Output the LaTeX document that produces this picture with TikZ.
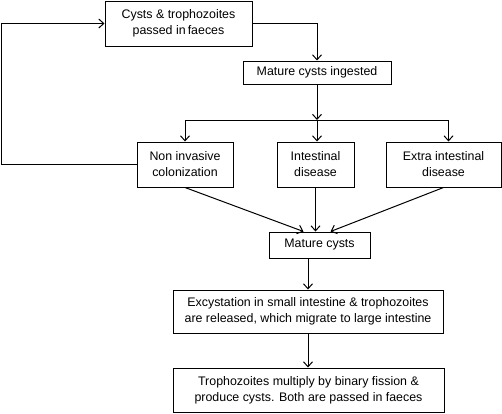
\documentclass[tikz,border=0pt]{standalone}
\usepackage{fontspec}
\setmainfont{Liberation Sans}
\usetikzlibrary{arrows.meta}

\begin{document}
\begin{tikzpicture}[
  x=1pt, y=-1pt,
  font=\fontsize{12.4}{16}\selectfont,
  >={Straight Barb[length=5pt,width=9pt]},
  block/.style={rectangle, draw=black, line width=1pt, fill=white, inner sep=0pt, align=center},
  arrow/.style={->, line width=1pt}
]
\useasboundingbox (0,0) rectangle (502,413);
% top of the cycle
\node[block, minimum width=147pt, minimum height=45pt] (passed) at (178.5,23.5) {Cysts \& trophozoites\\passed in\,faeces};
\node[block, minimum width=148pt, minimum height=23pt] (ingested) at (317,72.5) {Mature cysts ingested};
% three outcomes
\node[block, minimum width=96pt, minimum height=45pt] (noninv) at (185,164.5) {Non invasive\\colonization};
\node[block, minimum width=77pt, minimum height=45pt] (intest) at (315.5,164.5) {Intestinal\\disease};
\node[block, minimum width=115pt, minimum height=45pt] (extra) at (443.5,164.5) {Extra intestinal\\disease};
% back in the gut
\node[block, minimum width=101pt, minimum height=26pt] (mature) at (319.5,245) {Mature cysts};
\node[block, minimum width=270pt, minimum height=43pt] (excyst) at (308,311.5) {Excystation in small intestine \& trophozoites\\are released, which migrate to large intestine};
\node[block, minimum width=271pt, minimum height=44pt] (multiply) at (308.5,390) {Trophozoites multiply by binary fission \&\\produce cysts. Both are passed in faeces};
\coordinate (split) at (317,120);
\coordinate (loop) at (1,0);

\draw[arrow] (passed.east) -| (ingested.north);
\draw[arrow] (ingested.south) -- (split);
\draw[line width=1pt] (noninv.north |- split) -- ([xshift=5pt]extra.north |- split);
\draw[arrow] (noninv.north |- split) -- (noninv.north);
\draw[arrow] (split) -- (intest.north -| split);
\draw[arrow] ([xshift=5pt]extra.north |- split) -- ([xshift=5pt]extra.north);
\draw[arrow] (noninv.west) -- (noninv.west -| loop) |- (passed.west);
\draw[arrow] (noninv.south) -- ([xshift=-16pt]mature.north);
\draw[arrow] (intest.south) -- ([xshift=-4pt]mature.north);
\draw[arrow] (extra.south) -- ([xshift=11pt]mature.north);
\draw[arrow] (mature.south -| excyst.north) -- (excyst.north);
\draw[arrow] (excyst.south) -- (excyst.south |- multiply.north);
\end{tikzpicture}
\end{document}
